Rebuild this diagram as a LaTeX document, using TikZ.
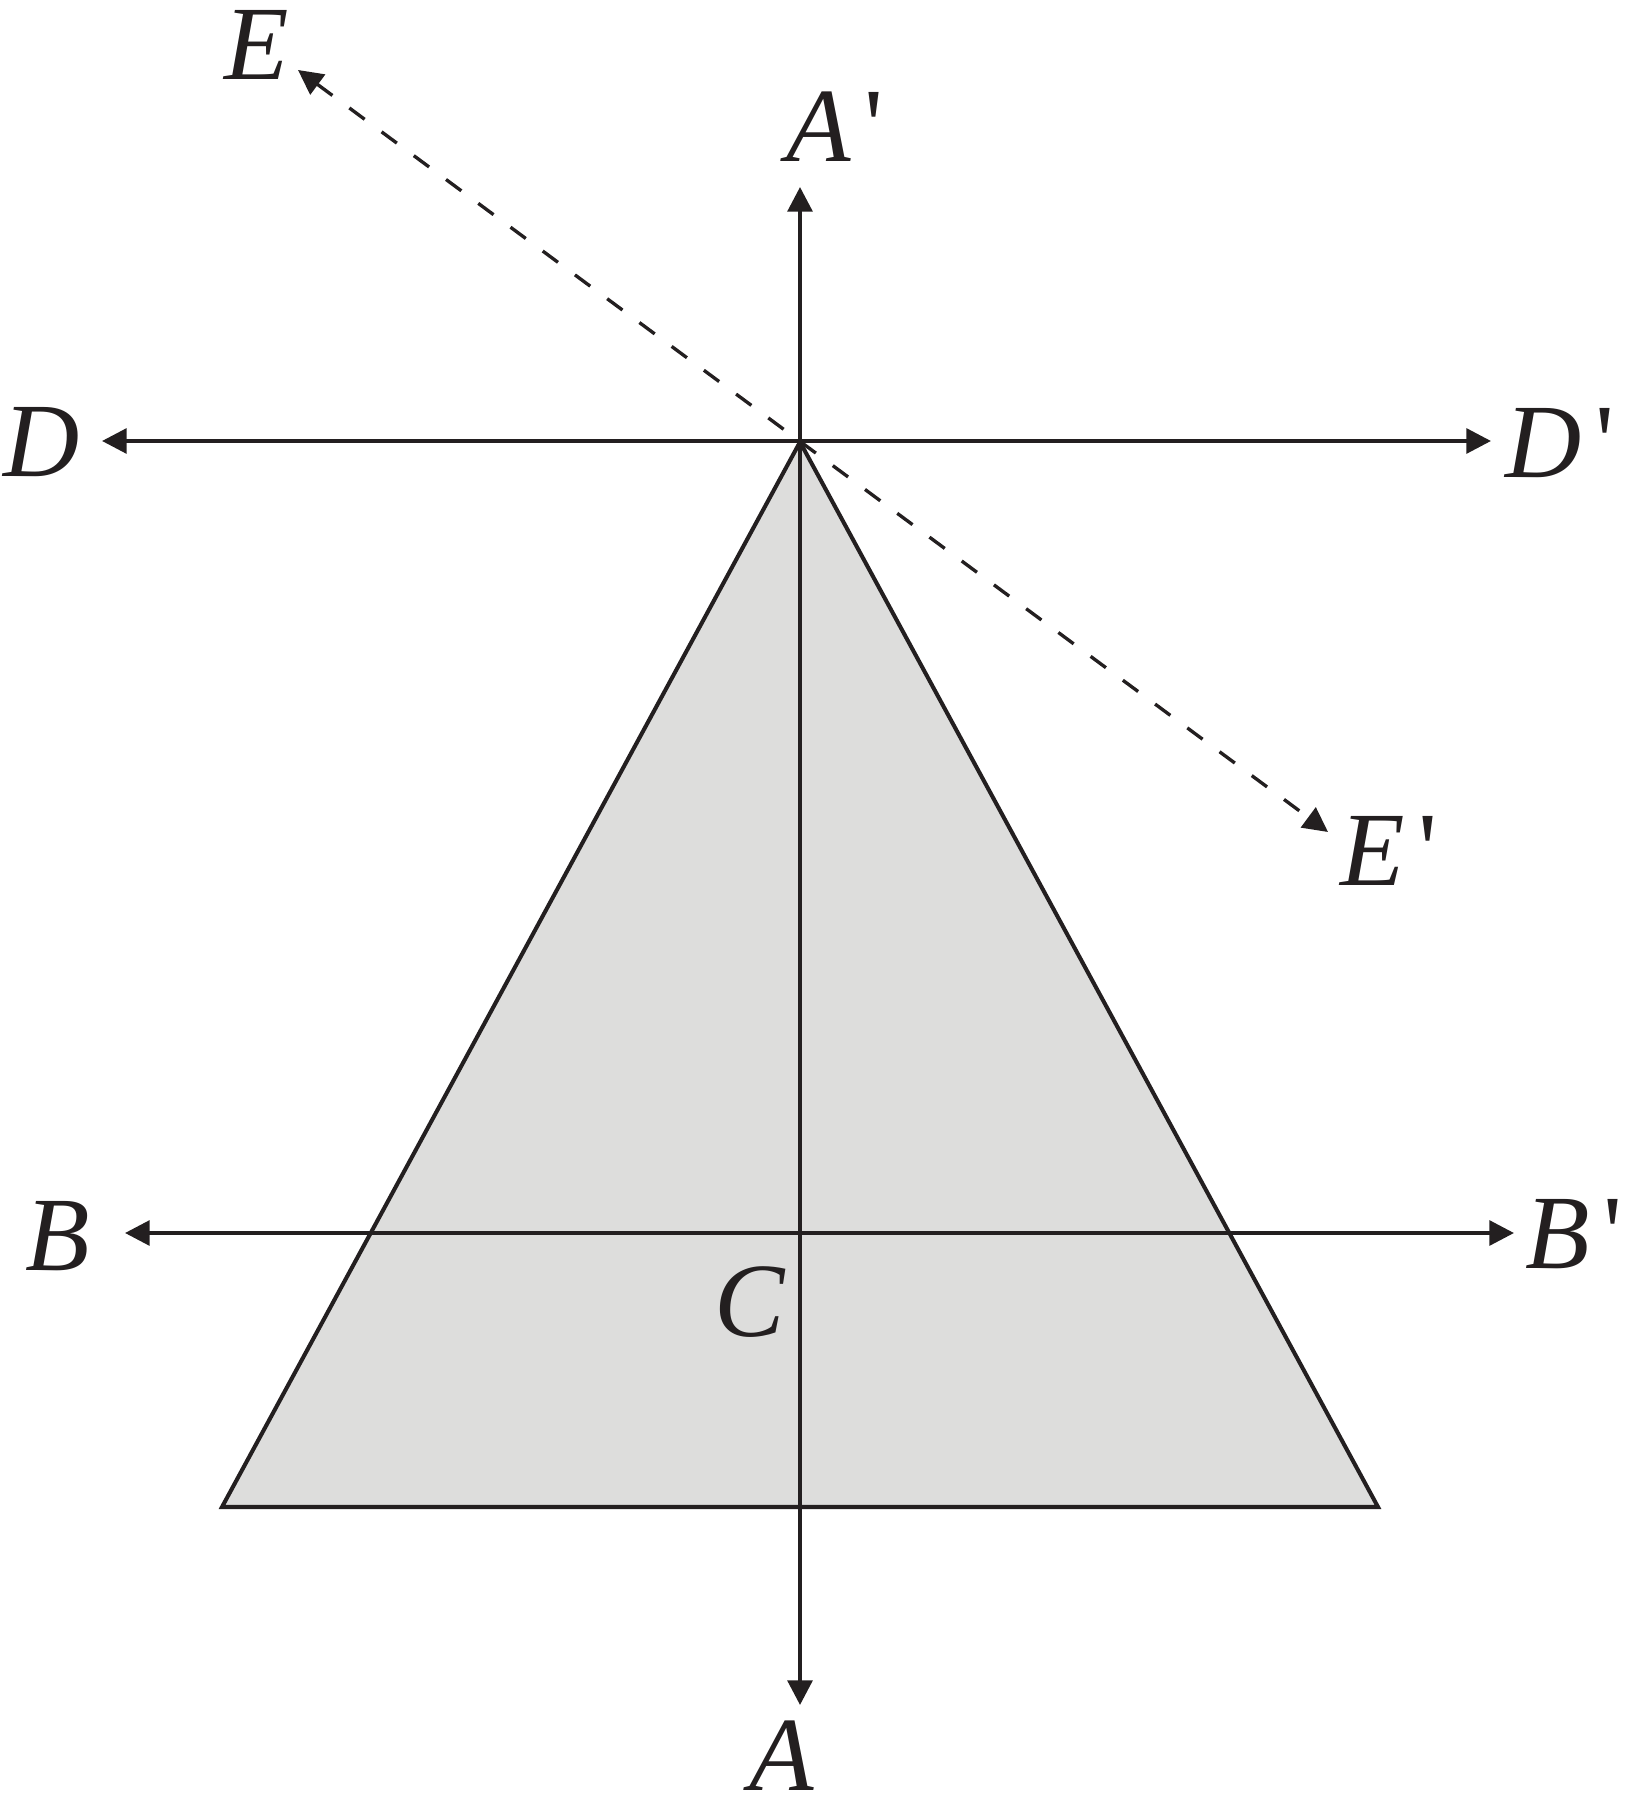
\documentclass[tikz,border=0pt]{standalone}
\usepackage{fontspec}
\setmainfont{Liberation Serif}
\usetikzlibrary{arrows.meta}
\definecolor{inkline}{RGB}{35,31,32}
\definecolor{prismgray}{RGB}{221,221,220}
\tikzset{
  lbl/.style={inner sep=0pt, anchor=base, text=inkline, font=\fontsize{30}{32}\selectfont\itshape},
  axis/.style={draw=inkline, line width=1.15pt, {Triangle[length=7pt, width=7pt]}-{Triangle[length=7pt, width=7pt]}},
  sight/.style={axis, line width=0.95pt, dash pattern=on 5.4pt off 6pt}
}
\newcommand{\ptlabel}[3] {\node at (#1) (#2) [lbl] {#3};}
\newcommand{\ptprime}[3] {\node at (#1) (#2) [lbl, anchor=base west] {#3\hspace{0.13em}{\upshape\textquotesingle}};}
\newcommand{\tip}[2] {\coordinate (#2) at (#1);}
\newcommand{\axisline}[2] {\draw [axis] (#1) -- (#2);}
\newcommand{\sightline}[2] {\draw [sight] (#1) -- (#2);}

\begin{document}
\begin{tikzpicture}[x=0.01cm, y=-0.01cm]
\useasboundingbox (0,0) rectangle (1635,1801);

% prism
\tip {800,442} {apex};
\tip {222,1507} {baseL};
\tip {1378,1507} {baseR};
\fill [prismgray] (apex) -- (baseL) -- (baseR) -- cycle;

% arrow ends
\tip {102,441} {tD};
\tip {1491,441} {tDp};
\tip {800,187} {tAp};
\tip {800,1705} {tA};
\tip {125,1233} {tB};
\tip {1514,1233} {tBp};
\tip {298,70} {tE};
\tip {1328,832} {tEp};

\axisline{tD}{tDp};
\axisline{tB}{tBp};
\axisline{tA}{tAp};
\sightline{tE}{tEp};

\draw [inkline, line width=1.15pt, line join=miter] (apex) -- (baseL) -- (baseR) -- cycle;

% labels
\ptlabel {257,80} {E} {E};
\ptprime {786,162} {Ap} {A};
\ptlabel {42,477} {D} {D};
\ptprime {1505,478} {Dp} {D};
\ptprime {1340,885} {Ep} {E};
\ptlabel {58,1270} {B} {B};
\ptprime {1525,1268} {Bp} {B};
\ptlabel {750,1336} {C} {C};
\ptlabel {782,1790} {A} {A};
\end{tikzpicture}
\end{document}
